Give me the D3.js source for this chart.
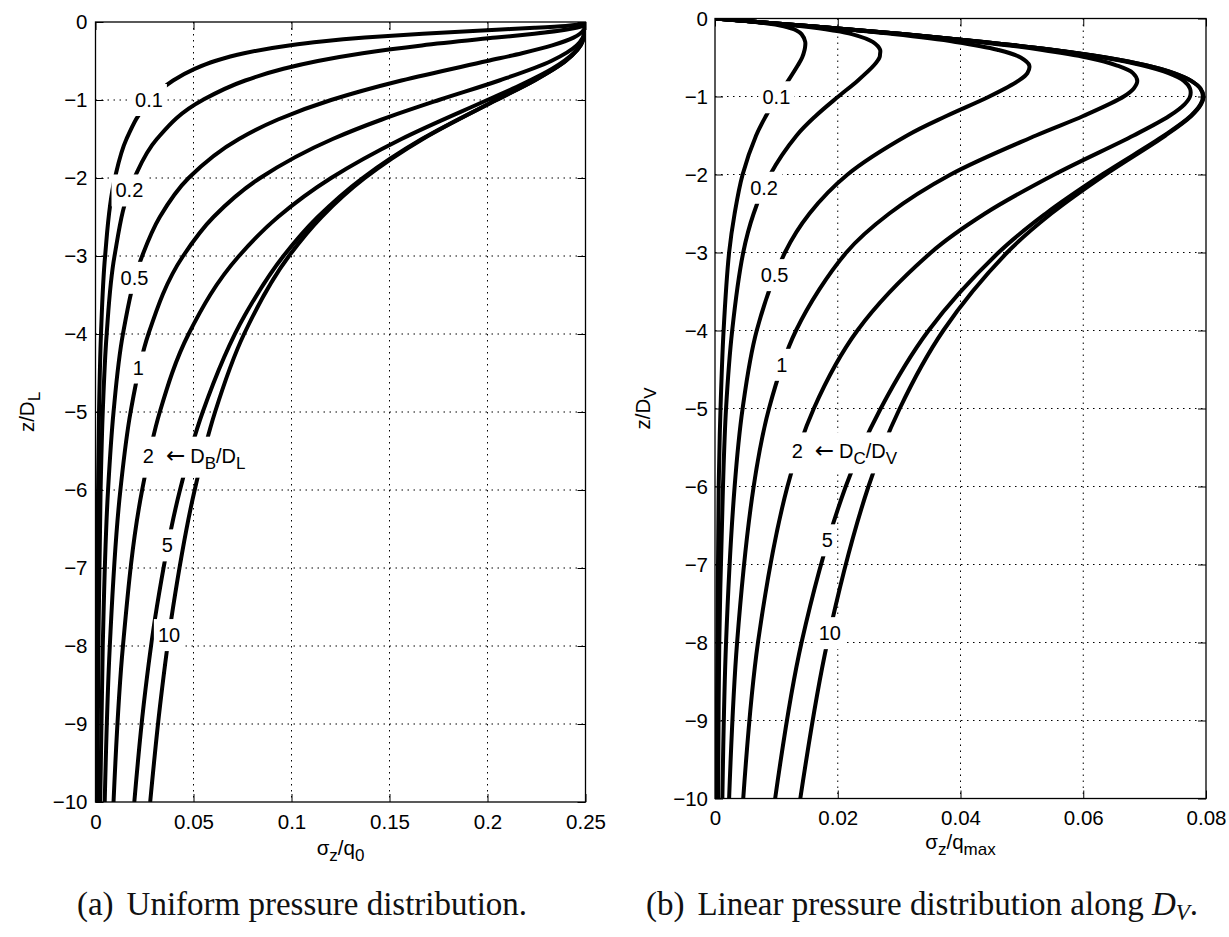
<!DOCTYPE html>
<html>
<head>
<meta charset="utf-8">
<script src="https://cdn.jsdelivr.net/npm/d3@7"></script>
<style>
  body { margin: 0; background: #fff; }
</style>
</head>
<body>
<div id="chart"></div>
<script>
// (a) uniform pressure: [sigma_z/q0, z/D_L] for each D_B/D_L
const uniform01 = [[0.25,0],[0.2485,-0.025],[0.2399,-0.05],[0.2240,-0.075],[0.2046,-0.1],[0.1670,-0.15],[0.1374,-0.2],[0.1153,-0.25],[0.0987,-0.3],[0.0758,-0.4],[0.0610,-0.5],[0.0506,-0.6],[0.0396,-0.75],[0.0330,-0.875],[0.0279,-1],[0.0158,-1.5],[0.0099,-2],[0.0049,-3],[0.0028,-4],[0.0018,-5],[0.0013,-6],[0.0007,-8],[0.0005,-10]];
const uniform02 = [[0.25,0],[0.2485,-0.05],[0.2398,-0.1],[0.2239,-0.15],[0.2044,-0.2],[0.1665,-0.3],[0.1363,-0.4],[0.1134,-0.5],[0.0959,-0.6],[0.0764,-0.75],[0.0547,-1],[0.0313,-1.5],[0.0198,-2],[0.0097,-3],[0.0057,-4],[0.0037,-5],[0.0026,-6],[0.0015,-8],[0.0009,-10]];
const uniform05 = [[0.25,0],[0.2499,-0.05],[0.2491,-0.1],[0.2439,-0.2],[0.2330,-0.3],[0.2176,-0.4],[0.1999,-0.5],[0.1561,-0.75],[0.1202,-1],[0.0931,-1.25],[0.0732,-1.5],[0.0475,-2],[0.0328,-2.5],[0.0238,-3],[0.0140,-4],[0.0092,-5],[0.0064,-6],[0.0037,-8],[0.0024,-10]];
const uniform1 = [[0.25,0],[0.2498,-0.1],[0.2486,-0.2],[0.2455,-0.3],[0.2325,-0.5],[0.2060,-0.75],[0.1752,-1],[0.1461,-1.25],[0.1210,-1.5],[0.0840,-2],[0.0602,-2.5],[0.0447,-3],[0.0270,-4],[0.0179,-5],[0.0127,-6],[0.0073,-8],[0.0047,-10]];
const uniform2 = [[0.25,0],[0.2499,-0.1],[0.2491,-0.2],[0.2439,-0.4],[0.2330,-0.6],[0.2176,-0.8],[0.1999,-1],[0.1561,-1.5],[0.1202,-2],[0.0931,-2.5],[0.0732,-3],[0.0475,-4],[0.0328,-5],[0.0238,-6],[0.0140,-8],[0.0092,-10]];
const uniform5 = [[0.25,0],[0.2485,-0.25],[0.2398,-0.5],[0.2239,-0.75],[0.2044,-1],[0.1665,-1.5],[0.1363,-2],[0.1134,-2.5],[0.0959,-3],[0.0764,-3.75],[0.0547,-5],[0.0431,-6],[0.0313,-7.5],[0.0246,-8.75],[0.0198,-10]];
const uniform10 = [[0.25,0],[0.2485,-0.25],[0.2399,-0.5],[0.2240,-0.75],[0.2046,-1],[0.1670,-1.5],[0.1374,-2],[0.1153,-2.5],[0.0987,-3],[0.0758,-4],[0.0610,-5],[0.0506,-6],[0.0396,-7.5],[0.0330,-8.75],[0.0279,-10]];

// (b) linear pressure: [sigma_z/q_max, z/D_V] for each D_C/D_V
const linear01 = [[0,0],[0.0039,-0.025],[0.0071,-0.05],[0.0112,-0.1],[0.0132,-0.15],[0.0141,-0.2],[0.0147,-0.3],[0.0147,-0.35],[0.0146,-0.4],[0.0142,-0.5],[0.0135,-0.6],[0.0119,-0.8],[0.0102,-1],[0.0083,-1.25],[0.0067,-1.5],[0.0045,-2],[0.0032,-2.5],[0.0023,-3],[0.0014,-4],[0.0009,-5],[0.0006,-6],[0.0004,-8],[0.0002,-10]];
const linear02 = [[0,0],[0.0039,-0.025],[0.0077,-0.05],[0.0142,-0.1],[0.0190,-0.15],[0.0223,-0.2],[0.0257,-0.3],[0.0269,-0.4],[0.0269,-0.45],[0.0268,-0.5],[0.0259,-0.6],[0.0232,-0.8],[0.0201,-1],[0.0164,-1.25],[0.0133,-1.5],[0.0090,-2],[0.0063,-2.5],[0.0046,-3],[0.0028,-4],[0.0018,-5],[0.0013,-6],[0.0007,-8],[0.0005,-10]];
const linear05 = [[0,0],[0.0079,-0.05],[0.0155,-0.1],[0.0290,-0.2],[0.0392,-0.3],[0.0460,-0.4],[0.0498,-0.5],[0.0512,-0.6],[0.0509,-0.7],[0.0494,-0.8],[0.0447,-1],[0.0377,-1.25],[0.0313,-1.5],[0.0216,-2],[0.0154,-2.5],[0.0114,-3],[0.0068,-4],[0.0045,-5],[0.0032,-6],[0.0018,-8],[0.0012,-10]];
const linear1 = [[0,0],[0.0079,-0.05],[0.0157,-0.1],[0.0304,-0.2],[0.0430,-0.3],[0.0531,-0.4],[0.0606,-0.5],[0.0654,-0.6],[0.0681,-0.7],[0.0688,-0.8],[0.0682,-0.9],[0.0666,-1],[0.0600,-1.25],[0.0523,-1.5],[0.0384,-2],[0.0284,-2.5],[0.0214,-3],[0.0132,-4],[0.0088,-5],[0.0063,-6],[0.0036,-8],[0.0023,-10]];
const linear2 = [[0,0],[0.0079,-0.05],[0.0158,-0.1],[0.0306,-0.2],[0.0437,-0.3],[0.0547,-0.4],[0.0633,-0.5],[0.0696,-0.6],[0.0739,-0.7],[0.0764,-0.8],[0.0774,-0.9],[0.0774,-1],[0.0765,-1.1],[0.0740,-1.25],[0.0682,-1.5],[0.0553,-2],[0.0440,-2.5],[0.0352,-3],[0.0232,-4],[0.0161,-5],[0.0118,-6],[0.0070,-8],[0.0046,-10]];
const linear5 = [[0,0],[0.0079,-0.05],[0.0158,-0.1],[0.0306,-0.2],[0.0438,-0.3],[0.0549,-0.4],[0.0637,-0.5],[0.0702,-0.6],[0.0747,-0.7],[0.0776,-0.8],[0.0791,-0.9],[0.0795,-1],[0.0791,-1.1],[0.0775,-1.25],[0.0732,-1.5],[0.0631,-2],[0.0539,-2.5],[0.0462,-3],[0.0348,-4],[0.0270,-5],[0.0213,-6],[0.0141,-8],[0.0098,-10]];
const linear10 = [[0,0],[0.0079,-0.05],[0.0158,-0.1],[0.0306,-0.2],[0.0438,-0.3],[0.0549,-0.4],[0.0637,-0.5],[0.0702,-0.6],[0.0748,-0.7],[0.0776,-0.8],[0.0791,-0.9],[0.0796,-1],[0.0792,-1.1],[0.0776,-1.25],[0.0734,-1.5],[0.0636,-2],[0.0548,-2.5],[0.0476,-3],[0.0372,-4],[0.0301,-5],[0.0250,-6],[0.0183,-8],[0.0139,-10]];

const ratioLabels = ["0.1", "0.2", "0.5", "1", "2", "5", "10"];
// where each inline label sits: [x value, z value]
const uniformLabelPos = [[0.0273,-1.0],[0.0173,-2.16],[0.0199,-3.28],[0.0219,-4.43],[0.0270,-5.56],[0.0367,-6.71],[0.0375,-7.86]];
const linearLabelPos = [[0.0100,-1.01],[0.0080,-2.17],[0.0097,-3.29],[0.0109,-4.44],[0.0134,-5.55],[0.0183,-6.69],[0.0187,-7.88]];

const uniformXTicks = [0, 0.05, 0.1, 0.15, 0.2, 0.25];
const linearXTicks = [0, 0.02, 0.04, 0.06, 0.08];
const zTicks = [0, -1, -2, -3, -4, -5, -6, -7, -8, -9, -10];

const W = 1229, H = 937;
const sans = "'Liberation Sans', Arial, Helvetica, sans-serif";
const serif = "'Liberation Serif', 'Times New Roman', Times, serif";

const svg = d3.select("#chart")
    .append("svg")
    .attr("width", W)
    .attr("height", H)
    .style("background-color", "#fff");

function drawPanel(p) {
    const x = d3.scaleLinear().domain([0, p.xMax]).range([p.left, p.right]);
    const y = d3.scaleLinear().domain([0, -10]).range([p.top, p.bottom]);
    const g = svg.append("g");

    // dotted grid
    const grid = g.append("g")
        .attr("stroke", "#000")
        .attr("stroke-width", 1)
        .attr("stroke-dasharray", "1.5,4.5");
    grid.selectAll("line.gx")
        .data(p.xTicks.filter(d => d > 0 && d < p.xMax))
        .join("line")
        .attr("class", "gx")
        .attr("x1", d => x(d)).attr("x2", d => x(d))
        .attr("y1", p.top).attr("y2", p.bottom);
    grid.selectAll("line.gy")
        .data(zTicks.filter(d => d < 0 && d > -10))
        .join("line")
        .attr("class", "gy")
        .attr("x1", p.left).attr("x2", p.right)
        .attr("y1", d => y(d)).attr("y2", d => y(d));

    // curves
    const clipId = "clip-" + p.id;
    svg.append("clipPath").attr("id", clipId)
        .append("rect")
        .attr("x", p.left).attr("y", p.top)
        .attr("width", p.right - p.left).attr("height", p.bottom - p.top);

    const line = d3.line()
        .x(d => x(d[0]))
        .y(d => y(d[1]))
        .curve(p.curve);

    g.append("g")
        .attr("clip-path", `url(#${clipId})`)
        .selectAll("path")
        .data(p.curves)
        .join("path")
        .attr("d", line)
        .attr("fill", "none")
        .attr("stroke", "#000")
        .attr("stroke-width", 4);

    // inline labels with white background
    p.labelPos.forEach((pos, i) => {
        const lg = g.append("g");
        const bg = lg.append("rect").attr("fill", "#fff");
        const t = lg.append("text")
            .attr("font-family", sans)
            .attr("font-size", 20)
            .attr("fill", "#000")
            .attr("y", y(pos[1]))
            .attr("dy", "0.35em");
        if (i === 4) {
            // "2 <- D_x/D_y"
            t.attr("text-anchor", "start");
            t.append("tspan").text("2");
            t.append("tspan").attr("dx", 12)
                .attr("font-family", "'DejaVu Sans', sans-serif")
                .attr("font-size", 23)
                .text("\u2190");
            t.append("tspan").attr("dx", 5).text("D");
            t.append("tspan").attr("dy", 6).attr("font-size", 17).text(p.annot[0]);
            t.append("tspan").attr("dy", -6).text("/D");
            t.append("tspan").attr("dy", 6).attr("font-size", 17).text(p.annot[1]);
            const w2 = t.node().getSubStringLength(0, 1);
            t.attr("x", x(pos[0]) - w2 / 2);
        } else {
            t.attr("text-anchor", "middle")
                .attr("x", x(pos[0]))
                .text(ratioLabels[i]);
        }
        const b = t.node().getBBox();
        bg.attr("x", b.x - 4).attr("y", b.y - 5)
            .attr("width", b.width + 8).attr("height", b.height + 10);
    });

    // axes
    const styleAxis = sel => {
        sel.select(".domain").remove();
        sel.selectAll("line").attr("stroke", "#000").attr("stroke-width", 1);
        sel.selectAll("text")
            .attr("font-family", sans)
            .attr("font-size", 20.5)
            .attr("fill", "#000");
    };

    g.append("g")
        .attr("transform", `translate(0,${p.bottom})`)
        .call(d3.axisBottom(x).tickValues(p.xTicks).tickFormat(d3.format("~g"))
            .tickSizeInner(-8).tickSizeOuter(0).tickPadding(12))
        .call(styleAxis);
    g.append("g")
        .attr("transform", `translate(0,${p.top})`)
        .call(d3.axisTop(x).tickValues(p.xTicks).tickFormat(() => "")
            .tickSizeInner(-8).tickSizeOuter(0))
        .call(styleAxis);
    g.append("g")
        .attr("transform", `translate(${p.left},0)`)
        .call(d3.axisLeft(y).tickValues(zTicks).tickFormat(d3.format("d"))
            .tickSizeInner(-8).tickSizeOuter(0).tickPadding(p.yPad))
        .call(styleAxis);
    g.append("g")
        .attr("transform", `translate(${p.right},0)`)
        .call(d3.axisRight(y).tickValues(zTicks).tickFormat(() => "")
            .tickSizeInner(-8).tickSizeOuter(0))
        .call(styleAxis);

    // box
    g.append("rect")
        .attr("x", p.left).attr("y", p.top)
        .attr("width", p.right - p.left).attr("height", p.bottom - p.top)
        .attr("fill", "none")
        .attr("stroke", "#000")
        .attr("stroke-width", 1.3);

    // x label
    const xl = g.append("text")
        .attr("x", (p.left + p.right) / 2)
        .attr("y", p.xLabelY)
        .attr("text-anchor", "middle")
        .attr("font-family", sans)
        .attr("font-size", 20.5)
        .attr("fill", "#000");
    xl.append("tspan").text("\u03c3");
    xl.append("tspan").attr("dy", 6).attr("font-size", 17).text("z");
    xl.append("tspan").attr("dy", -6).text("/q");
    xl.append("tspan").attr("dy", 6).attr("font-size", 17).text(p.xSub);

    // y label
    const yl = g.append("text")
        .attr("transform", `translate(${p.yLabelX},${(p.top + p.bottom) / 2}) rotate(-90)`)
        .attr("text-anchor", "middle")
        .attr("font-family", sans)
        .attr("font-size", 20.5)
        .attr("fill", "#000");
    yl.append("tspan").text("z/D");
    yl.append("tspan").attr("dy", 6).attr("font-size", 17).text(p.ySub);

    // caption
    const cap = svg.append("text")
        .attr("x", p.capX)
        .attr("y", 915)
        .attr("text-anchor", "middle")
        .attr("font-family", serif)
        .attr("font-size", 33)
        .attr("fill", "#111");
    p.caption(cap);
}

drawPanel({
    id: "a",
    left: 95.5, right: 585.5, top: 22, bottom: 802,
    xMax: 0.25,
    xTicks: uniformXTicks,
    curves: [uniform01, uniform02, uniform05, uniform1, uniform2, uniform5, uniform10],
    curve: d3.curveMonotoneY,
    labelPos: uniformLabelPos,
    annot: ["B", "L"],
    yPad: 8,
    xSub: "0",
    xLabelY: 855,
    ySub: "L",
    yLabelX: 34,
    capX: 302,
    caption: cap => {
        cap.append("tspan").text("(a)");
        cap.append("tspan").attr("dx", 13).text("Uniform pressure distribution.");
    }
});

drawPanel({
    id: "b",
    left: 715, right: 1206, top: 18.5, bottom: 798.5,
    xMax: 0.08,
    xTicks: linearXTicks,
    curves: [linear01, linear02, linear05, linear1, linear2, linear5, linear10],
    curve: d3.curveCatmullRom.alpha(0.5),
    labelPos: linearLabelPos,
    annot: ["C", "V"],
    yPad: 7,
    xSub: "max",
    xLabelY: 849,
    ySub: "V",
    yLabelX: 650,
    capX: 922,
    caption: cap => {
        cap.append("tspan").text("(b)");
        cap.append("tspan").attr("dx", 13).text("Linear pressure distribution along ");
        cap.append("tspan").attr("font-style", "italic").text("D");
        cap.append("tspan").attr("font-style", "italic").attr("font-size", 23).attr("dy", 5).text("V");
        cap.append("tspan").attr("dy", -5).text(".");
    }
});
</script>
</body>
</html>
